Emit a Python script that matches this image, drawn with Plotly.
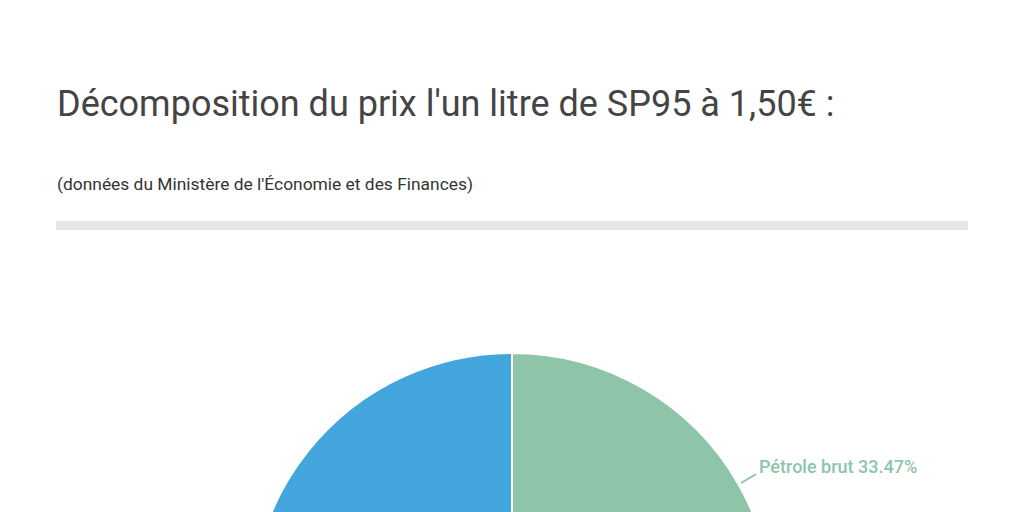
import math
import plotly.graph_objects as go

# Data (only the first slice is readable in the reference; the rest are estimates)
labels = ["Pétrole brut", "Raffinage", "Distribution", "Taxes (TICPE + TVA)"]
values = [33.47, 3.13, 6.27, 57.13]
colors = ["#8ec4a8", "#f2b35e", "#d96b6b", "#42a5dc"]

title_text = "Décomposition du prix l'un litre de SP95 à 1,50€ :"
subtitle_text = "(données du Ministère de l'Économie et des Finances)"

W, H = 1024, 1212
OFF = 8  # page body margin
cx, cy, r = 512 - OFF, 614 - OFF, 261

def px(x):
    return x / W

def py(y):
    return 1 - y / H

fig = go.Figure(go.Pie(
    labels=labels,
    values=values,
    marker=dict(colors=colors, line=dict(color="white", width=2)),
    sort=False,
    direction="clockwise",
    rotation=0,
    textinfo="none",
    hoverinfo="label+percent",
    showlegend=False,
    domain=dict(x=[px(cx - r), px(cx + r)], y=[py(cy + r), py(cy - r)]),
))

# outside labels with short leader lines, placed from each slice's mid angle
total = sum(values)
cum = 0.0
for lab, val, col in zip(labels, values, colors):
    mid = (cum + val / 2) / total * 2 * math.pi
    cum += val
    sx, sy = math.sin(mid), -math.cos(mid)
    x0, y0 = cx + (r + 3) * sx, cy + (r + 3) * sy
    side = 1 if sx >= 0 else -1
    x1, y1 = x0 + 15 * side, y0 - 9
    fig.add_shape(type="line", xref="paper", yref="paper",
                  x0=px(x0), y0=py(y0), x1=px(x1), y1=py(y1),
                  line=dict(color=col, width=2))
    fig.add_annotation(text=f"{lab} {val / total * 100:.2f}%",
                       xref="paper", yref="paper",
                       x=px(x1 + 1 * side), y=py(y1 - 7),
                       xanchor="left" if side > 0 else "right", yanchor="middle",
                       showarrow=False,
                       font=dict(family="Roboto", size=18, color=col, weight=500))

fig.add_shape(type="rect", xref="paper", yref="paper",
              x0=px(56 - OFF), x1=px(968 - OFF), y0=py(230 - OFF), y1=py(221 - OFF),
              fillcolor="#e6e6e6", line=dict(width=0), layer="below")

fig.add_annotation(text=title_text, xref="paper", yref="paper",
                   x=px(55 - OFF), y=py(103.5 - OFF), xanchor="left", yanchor="middle",
                   showarrow=False,
                   font=dict(family="Roboto", size=36, color="#444444"))
fig.add_annotation(text=subtitle_text, xref="paper", yref="paper",
                   x=px(55 - OFF), y=py(183.5 - OFF), xanchor="left", yanchor="middle",
                   showarrow=False,
                   font=dict(family="Roboto", size=17.4, color="#333333"))

fig.update_layout(
    width=W, height=H,
    margin=dict(l=0, r=0, t=0, b=0),
    paper_bgcolor="white",
    plot_bgcolor="white",
    font=dict(family="Roboto"),
)

fig.write_html("out.html")
